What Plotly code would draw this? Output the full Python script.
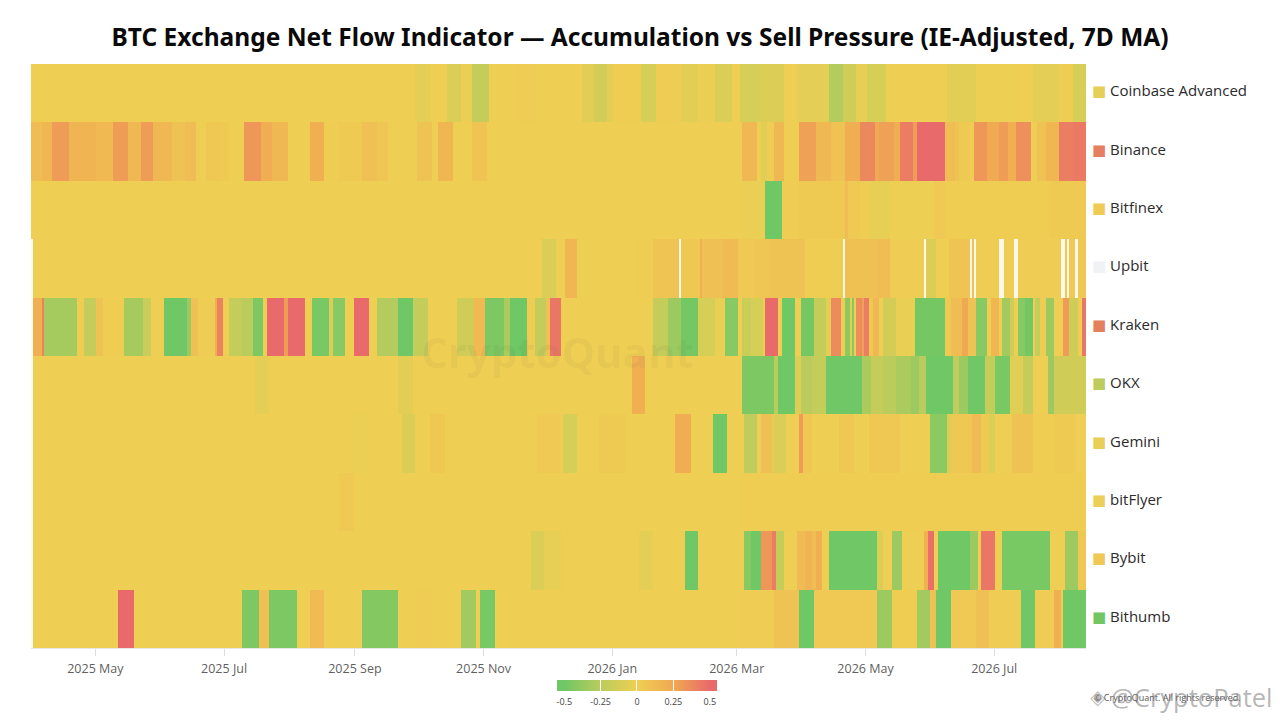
import pandas as pd
import plotly.graph_objects as go

START_DATE = "2025-04-01"
N_DAYS = 500

exchanges = ["Coinbase Advanced", "Binance", "Bitfinex", "Upbit", "Kraken",
             "OKX", "Gemini", "bitFlyer", "Bybit", "Bithumb"]
legend_colors = ["#E6CF58", "#E57F62", "#EFCB55", "#F0F2F6", "#E5805F",
                 "#BDCC5E", "#E8CF58", "#EBCF58", "#EFC855", "#72C663"]

# (first day of the run, net-flow value); each run lasts until the next one starts
coinbase = [(0,0),(182,-0.05),(189,0),(197,-0.1),(204,-0.02),(209,-0.2),(217,0),(229,0.02),(239,0),
            (261,-0.06),(267,-0.14),(273,-0.06),(276,0.01),(289,-0.12),(296,0.02),(308,-0.06),(316,-0.02),
            (324,-0.1),(332,0),(336,-0.12),(345,-0.1),(357,0),(363,-0.05),(378,-0.27),(385,-0.15),(391,-0.04),
            (396,-0.12),(405,0),(434,-0.07),(448,-0.01),(468,0),(475,-0.05),(487,0.02),(494,-0.12)]
binance = [(0,0.12),(5,0.16),(10,0.3),(18,0.17),(31,0.14),(39,0.3),(46,0.15),(52,0.3),(58,0.15),(67,0.08),
           (73,0.12),(78,0),(83,0.05),(89,0.03),(94,0),(101,0.32),(109,0.22),(114,0.15),(122,0),(132,0.2),
           (139,0.01),(146,0.03),(157,0.1),(164,0.06),(169,0),(183,0.08),(190,0),(193,0.16),(200,0),(209,0.07),
           (216,0),(337,0.15),(344,0),(346,-0.06),(349,0.01),(352,0.15),(357,0),(364,0.28),(372,0.15),(379,0.08),
           (386,0.22),(393,0.38),(400,0.25),(402,0.28),(409,0.22),(412,0.42),(418,0.3),(420,0.5),(433,0.12),
           (438,0.08),(440,0.03),(445,0.01),(447,0.32),(453,0.24),(459,0.3),(463,0.2),(467,0.35),(474,0),
           (477,0.08),(481,0.16),(487,0.42),(494,0.44)]
bitfinex = [(0,0),(337,-0.02),(343,-0.03),(348,-0.5),(356,0.02),(364,0.03),(386,0.12),(387,0.04),(393,0.01),
            (397,-0.04),(407,-0.01),(428,0.04),(433,0.01),(483,0.03)]
upbit = [(0,None),(1,0),(242,-0.1),(249,0),(253,0.16),(259,-0.01),(268,0),(287,0.02),(295,0.07),(307,None),
         (308,0.05),(317,0.2),(318,0.1),(328,0.13),(335,0.04),(343,0.06),(350,0.08),(367,0.01),(385,None),
         (386,0.09),(401,0.12),(407,0.02),(423,None),(424,-0.1),(429,0),(435,0.07),(445,None),(446,0.08),
         (447,None),(448,0.02),(459,None),(461,0.02),(466,None),(468,0.02),(488,None),(490,0.03),(491,None),
         (492,0.03),(495,None),(496,0.05)]
kraken = [(0,None),(1,0.2),(5,0.4),(6,-0.32),(22,0.01),(25,-0.2),(31,0.08),(34,0.01),(44,-0.32),(53,-0.18),
          (57,0),(63,-0.5),(74,-0.35),(76,0.1),(79,0.02),(87,0.2),(88,0.4),(91,0),(94,-0.2),(100,-0.25),
          (105,-0.45),(110,0),(112,0.5),(120,0.3),(122,0.5),(130,0),(133,-0.47),(141,-0.1),(143,-0.42),
          (149,0),(153,0.5),(160,0),(164,-0.27),(174,-0.5),(181,-0.2),(188,0),(202,-0.15),(210,0.14),
          (215,-0.45),(224,-0.3),(227,-0.5),(235,0.02),(239,-0.2),(244,0.1),(246,0.45),(251,0),
          (295,-0.2),(302,-0.35),(308,-0.48),(316,-0.12),(324,-0.03),(329,-0.42),(335,0),(337,-0.17),(341,-0.12),
          (347,0),(348,0.5),(354,0),(356,-0.5),(362,0),(365,-0.48),(371,-0.2),(377,-0.05),(379,0.37),(384,0.02),
          (386,-0.4),(388,-0.05),(389,-0.42),(390,0),(391,0.36),(394,0.28),(395,0.42),(397,0.05),(399,0.15),
          (402,0),(404,-0.13),(410,-0.03),(419,-0.48),(433,0.03),(436,0.12),(441,0.25),(444,0.08),(448,-0.42),
          (453,0),(455,0.16),(459,0),(460,-0.33),(464,-0.15),(466,0),(468,-0.42),(471,-0.48),(475,0),(476,-0.2),
          (478,0.02),(481,-0.35),(485,0),(489,0.3),(492,-0.15),(496,0),(498,0.45)]
okx = [(0,None),(1,0),(106,-0.05),(113,0),(174,-0.06),(181,0),(285,0.2),(291,0),(337,-0.45),(352,-0.25),
       (354,-0.5),(362,-0.08),(365,-0.25),(370,-0.2),(377,-0.5),(394,-0.3),(398,-0.2),(404,-0.25),(410,-0.3),
       (417,-0.35),(421,-0.25),(424,-0.5),(437,-0.22),(440,-0.35),(444,-0.5),(452,-0.2),(457,-0.47),(464,-0.07),
       (470,-0.2),(475,0),(482,-0.35),(485,-0.15)]
gemini = [(0,None),(1,0),(152,-0.02),(160,0),(176,-0.1),(182,0),(189,0.05),(196,0),(240,0.04),(251,0.0),
          (252,-0.12),(259,0),(269,0.03),(282,0),(305,0.22),(313,0),(323,-0.5),(330,0),(338,-0.22),(344,0),
          (346,0.1),(351,0.03),(352,-0.1),(358,0),(364,0.3),(366,0.05),(370,0),(383,0.05),(390,0),(397,0.05),
          (412,0),(426,-0.4),(434,-0.1),(436,0.05),(446,0.13),(450,0.03),(454,-0.08),(457,0),(465,0.08),
          (475,0.01),(485,0.03),(495,0)]
bitflyer = [(0,None),(1,0),(146,0.04),(153,0),(337,0.01)]
bybit = [(0,None),(1,0),(237,-0.1),(243,-0.04),(251,0),(288,-0.05),(295,0),(310,-0.5),(316,0),(338,-0.42),
         (341,-0.5),(346,0.32),(351,0.42),(353,-0.2),(357,0),(363,0.13),(367,0.17),(370,0.12),(372,0.2),(375,0),
         (378,-0.5),(401,-0.1),(404,0),(408,-0.35),(413,0),(423,0.2),(425,0.48),(428,0),(430,-0.5),(445,-0.35),
         (449,0),(450,0.45),(457,0),(460,-0.47),(483,0),(490,-0.35),(496,0.05)]
bithumb = [(0,None),(1,0),(41,0.5),(49,0),(100,-0.45),(108,0.1),(113,-0.45),(126,0),(132,0.13),(139,0),
           (157,-0.43),(174,0),(183,0.02),(190,0),(204,-0.33),(211,0),(213,-0.47),(220,0),(336,0.02),(352,0.08),
           (364,-0.5),(371,0.04),(401,-0.35),(408,0.01),(420,-0.33),(426,0.1),(429,-0.5),(436,0.04),(448,0.1),
           (454,0.02),(469,-0.5),(476,0.02),(485,0.2),(488,0),(489,-0.5)]

all_runs = [coinbase, binance, bitfinex, upbit, kraken, okx, gemini, bitflyer, bybit, bithumb]

colorbar_ticks = [-0.5, -0.25, 0, 0.25, 0.5]
colorbar_labels = ["-0.5", "-0.25", "0", "0.25", "0.5"]
colorbar_separators = [-0.25, 0, 0.25]


def expand(runs):
    row = []
    for i, (start, value) in enumerate(runs):
        end = runs[i + 1][0] if i + 1 < len(runs) else N_DAYS
        row.extend([value] * (end - start))
    return row


dates = pd.date_range(START_DATE, periods=N_DAYS, freq="D")
z = [expand(r) for r in all_runs]

colorscale = [[0, "#6FC765"], [0.045, "#6FC765"], [0.27, "#B9CC5C"], [0.5, "#EFCF53"],
              [0.73, "#F0A852"], [0.955, "#E96A6A"], [1, "#E96A6A"]]

bar_base = dict(orientation="h", x=0.5744, xanchor="center", y=-0.0548, yanchor="top",
                lenmode="pixels", len=160, thickness=11, outlinewidth=0, xpad=0, ypad=0)

fig = go.Figure()
# colour bar with its labels, pushed down by invisible white ticks
fig.add_trace(go.Heatmap(
    x=dates, y=exchanges, z=z, zmin=-0.55, zmax=0.55, colorscale=colorscale, hoverongaps=False,
    colorbar=dict(**bar_base, tickmode="array", tickvals=colorbar_ticks, ticktext=colorbar_labels,
                  ticks="outside", ticklen=4, tickcolor="white",
                  tickfont=dict(size=9, color="#444", family="Open Sans")),
))
# same bar on top, carrying only the white separators
fig.add_trace(go.Heatmap(
    x=dates, y=exchanges, z=z, zmin=-0.55, zmax=0.55, colorscale=colorscale, hoverongaps=False,
    colorbar=dict(**bar_base, tickmode="array", tickvals=colorbar_separators, showticklabels=False,
                  ticks="inside", ticklen=11, tickcolor="white", tickwidth=1),
))

row_labels = [
    dict(text=f'<span style="color:{c};font-size:15px;font-family:DejaVu Sans">■</span> {n}',
         xref="x domain", yref="y", x=1, y=n, xanchor="left", yanchor="middle", xshift=4, yshift=3,
         showarrow=False, align="left", font=dict(size=15, color="#2b2b2b", family="Open Sans"))
    for n, c in zip(exchanges, legend_colors)
]

fig.update_layout(
    width=1272, height=712, margin=dict(l=23, r=194, t=56, b=72, autoexpand=False),
    paper_bgcolor="white", plot_bgcolor="#FDF8EA",
    font=dict(family="Open Sans"),
    title=dict(text="<b>BTC Exchange Net Flow Indicator — Accumulation vs Sell Pressure (IE-Adjusted, 7D MA)</b>",
               x=0.4969, xanchor="center", y=0.959, yanchor="middle",
               font=dict(size=24.5, color="#0a0a0a", family="Noto Sans")),
    xaxis=dict(type="date", tickformat="%Y %b", dtick="M2", tick0="2025-05-01",
               ticks="outside", ticklen=7, tickcolor="#dddddd", showgrid=False, ticklabelstandoff=2,
               showline=True, linecolor="#e6e6e6",
               tickfont=dict(size=12.5, color="#5f5f5f", family="Open Sans")),
    yaxis=dict(side="right", autorange="reversed", showgrid=False, ticks="", showticklabels=False),
    annotations=row_labels + [
        dict(text="<b>CryptoQuant</b>", xref="paper", yref="paper", x=0.4986, y=0.507, yanchor="middle",
             showarrow=False, font=dict(size=42, color="rgba(90,90,60,0.07)", family="Open Sans")),
        dict(text="© CryptoQuant. All rights reserved.", xref="paper", yref="paper", x=1.0057, y=-0.085,
             xanchor="left", yanchor="middle", showarrow=False,
             font=dict(size=9, color="#555", family="Open Sans")),
        dict(text="◈", xref="paper", yref="paper", x=1.0114, y=-0.084, xanchor="center", yanchor="middle",
             showarrow=False, font=dict(size=20, color="rgba(120,120,120,0.5)", family="DejaVu Sans")),
        dict(text="@CryptoPatel", xref="paper", yref="paper", x=1.179, y=-0.084, xanchor="right",
             yanchor="middle", showarrow=False,
             font=dict(size=25.5, color="rgba(120,120,120,0.55)", family="Open Sans")),
    ],
)

fig.write_html("out.html")
